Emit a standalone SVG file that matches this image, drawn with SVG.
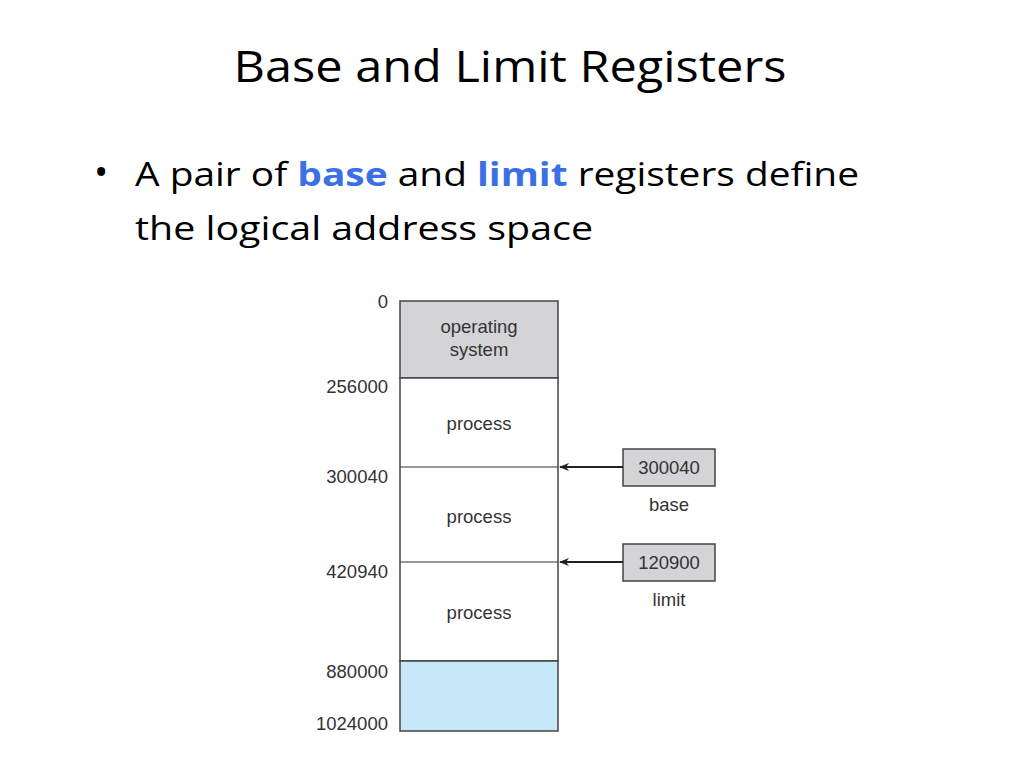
<svg xmlns="http://www.w3.org/2000/svg" width="1024" height="768" viewBox="0 0 1024 768">
<style>
.t{font-family:"Open Sans","Liberation Sans",sans-serif;fill:#000}
.d{font-family:"Liberation Sans",Arial,sans-serif;font-size:18.5px;fill:#333}
.box{stroke:#444;stroke-width:1.5}
.ln{stroke:#333;stroke-width:1.2}
</style>
<defs><marker id="ah" markerWidth="10" markerHeight="8" refX="9" refY="4" orient="auto" markerUnits="userSpaceOnUse"><path d="M0,0 L10,4 L0,8 L3,4 Z" fill="#222"/></marker></defs>
<rect width="1024" height="768" fill="#fff"/>
<text class="t" x="510" y="82" font-size="43" text-anchor="middle" textLength="553" lengthAdjust="spacingAndGlyphs">Base and Limit Registers</text>
<text class="t" x="94" y="186" font-size="38">•</text>
<text class="t" x="135" y="186" font-size="32" textLength="724" lengthAdjust="spacingAndGlyphs">A pair of <tspan fill="#3a6fe6" font-weight="bold">base</tspan> and <tspan fill="#3a6fe6" font-weight="bold">limit</tspan> registers define</text>
<text class="t" x="135" y="240" font-size="32" textLength="458" lengthAdjust="spacingAndGlyphs">the logical address space</text>
<g id="memory">
<rect class="box" x="400" y="301" width="158" height="77" fill="#d4d4d6"/>
<rect class="box" x="400" y="378" width="158" height="283" fill="#fff"/>
<rect class="box" x="400" y="661" width="158" height="70" fill="#c6e8f8"/>
<line class="ln" x1="400" y1="467" x2="558" y2="467"/>
<line class="ln" x1="400" y1="562" x2="558" y2="562"/>
<text class="d" x="479" y="333" text-anchor="middle">operating</text>
<text class="d" x="479" y="356" text-anchor="middle">system</text>
<text class="d" x="479" y="430" text-anchor="middle">process</text>
<text class="d" x="479" y="523" text-anchor="middle">process</text>
<text class="d" x="479" y="619" text-anchor="middle">process</text>
</g>
<g id="addresses">
<text class="d" x="388" y="308" text-anchor="end">0</text>
<text class="d" x="388" y="393" text-anchor="end">256000</text>
<text class="d" x="388" y="483" text-anchor="end">300040</text>
<text class="d" x="388" y="578" text-anchor="end">420940</text>
<text class="d" x="388" y="678" text-anchor="end">880000</text>
<text class="d" x="388" y="730" text-anchor="end">1024000</text>
</g>
<g id="base">
<rect class="box" x="623" y="449" width="92" height="37" fill="#d4d4d6"/>
<text class="d" x="669" y="474" text-anchor="middle">300040</text>
<text class="d" x="669" y="511" text-anchor="middle">base</text>
</g>
<g id="limit">
<rect class="box" x="623" y="544" width="92" height="37" fill="#d4d4d6"/>
<text class="d" x="669" y="569" text-anchor="middle">120900</text>
<text class="d" x="669" y="606" text-anchor="middle">limit</text>
</g>
<g id="connectors">
<line x1="623" y1="467" x2="560" y2="467" stroke="#222" stroke-width="2" marker-end="url(#ah)"/>
<line x1="623" y1="562" x2="560" y2="562" stroke="#222" stroke-width="2" marker-end="url(#ah)"/>
</g>
</svg>
